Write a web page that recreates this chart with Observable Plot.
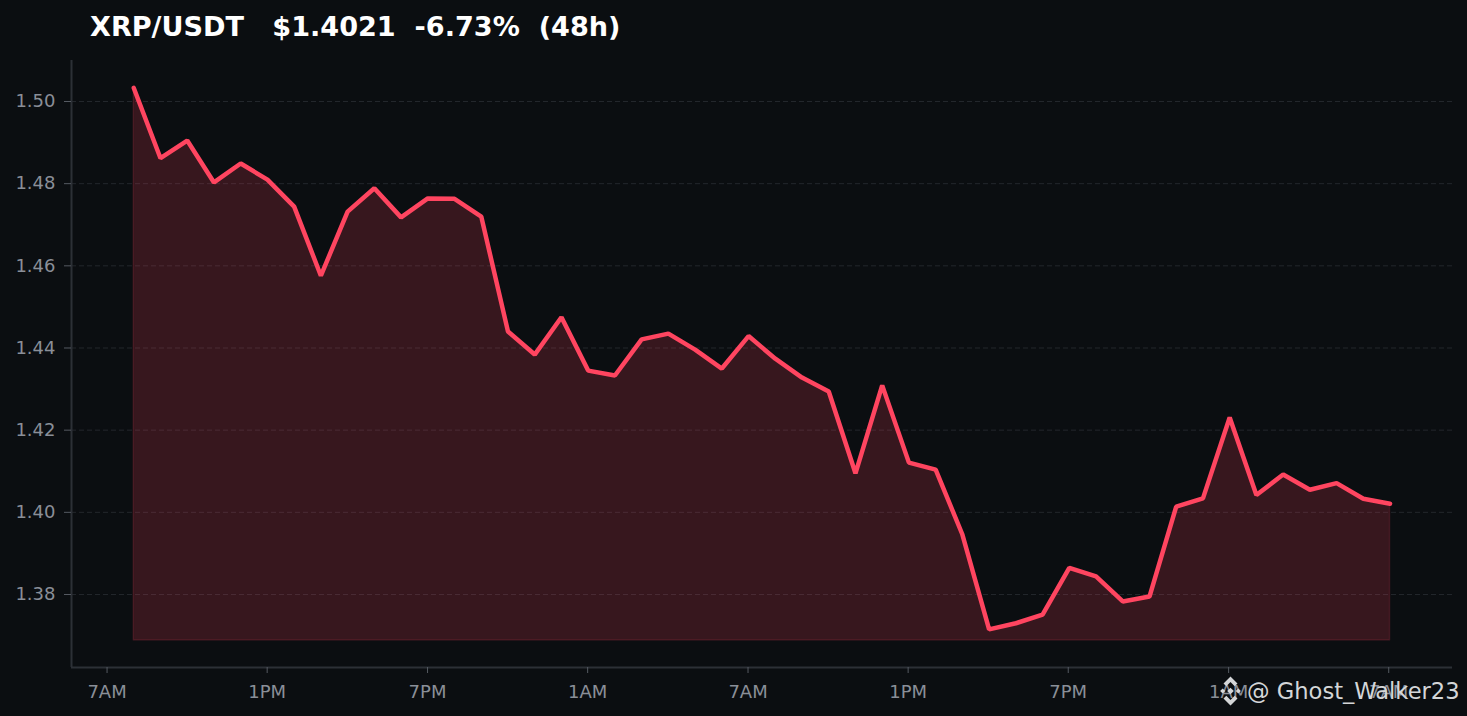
<!DOCTYPE html>
<html>
<head>
<meta charset="utf-8">
<script src="https://cdn.jsdelivr.net/npm/d3@7"></script>
<script src="https://cdn.jsdelivr.net/npm/@observablehq/plot@0.6"></script>
<style>
html,body{margin:0;padding:0;background:#0b0e11;overflow:hidden;width:1467px;height:716px;font-family:"DejaVu Sans",sans-serif}
#title{position:absolute;left:90px;top:10px;height:34px;line-height:34px;color:#fff;font-weight:700;font-size:27.1px;white-space:pre}
#chart{position:absolute;left:0;top:60px}
#mark{position:absolute;left:1219px;top:675px;display:flex;align-items:center;color:#d4d6d8;font-size:22.6px;line-height:32px;white-space:pre}
#mark svg{display:block;margin-right:5px}
</style>
</head>
<body>
<div id="title">XRP/USDT   $1.4021  -6.73%  (48h)</div>
<div id="chart"></div>
<div id="mark"><svg width="23" height="30" viewBox="0 0 23 30"><g fill="#d4d6d8"><path d="M11.500 0.500 18.500 7.500 15.700 10.300 11.500 6.100 7.300 10.300 4.500 7.500Z"/><path d="M11.500 29.500 18.500 22.500 15.700 19.700 11.500 23.900 7.300 19.700 4.500 22.500Z"/><path d="M11.500 11.700 14.800 15 11.500 18.300 8.200 15Z"/><path d="M3.700 12.400 6.300 15 3.700 17.600 1.100 15Z"/><path d="M19.300 12.400 21.900 15 19.300 17.600 16.700 15Z"/></g></svg>@ Ghost_Walker23</div>
<script>
const hours = [1,2,3,4,5,6,7,8,9,10,11,12,13,14,15,16,17,18,19,20,21,22,23,24,25,26,27,28,29,30,31,32,33,34,35,36,37,38,39,40,41,42,43,44,45,46,47,48];
const prices = [1.5033,1.4862,1.4905,1.4803,1.4849,1.4810,1.4744,1.4576,1.4732,1.4789,1.4718,1.4764,1.4763,1.4720,1.4440,1.4384,1.4475,1.4345,1.4333,1.4421,1.4435,1.4396,1.4350,1.4429,1.4374,1.4328,1.4294,1.4095,1.4309,1.4121,1.4104,1.3946,1.3715,1.3730,1.3751,1.3865,1.3844,1.3783,1.3795,1.4014,1.4034,1.4231,1.4042,1.4092,1.4055,1.4071,1.4033,1.4021];
const baseline = 1.3688;
const xTicks = [0,5.99,11.99,17.98,23.98,29.97,35.96,41.96,47.95];
const xLabels = ["7AM","1PM","7PM","1AM","7AM","1PM","7PM","1AM","7AM"];
const yTicks = [1.38,1.40,1.42,1.44,1.46,1.48,1.50];
const yDomain = [1.36223,1.50998];
const xDomain = [-1.33,50.336];

const fontSize = 18;
const chart = Plot.plot({
  width: 1467, height: 656,
  marginLeft: 71, marginRight: 15, marginTop: 0, marginBottom: 49,
  style: {background: "transparent", fontFamily: "'DejaVu Sans',sans-serif", fontSize: fontSize + "px"},
  x: {type: "linear", domain: xDomain, label: null},
  y: {type: "linear", domain: yDomain, label: null},
  marks: [
    Plot.gridY(yTicks, {stroke: "#23272c", strokeOpacity: 1, strokeWidth: 1, strokeDasharray: "5,3"}),
    Plot.areaY(hours, {x: d => d, y1: () => baseline, y2: (d, i) => prices[i], fill: "#ff4560", fillOpacity: 0.18, stroke: "#ff4560", strokeOpacity: 0.15, strokeWidth: 1.5}),
    Plot.line(hours, {x: d => d, y: (d, i) => prices[i], stroke: "#ff4560", strokeWidth: 4.5, strokeLinejoin: "miter"}),
    Plot.ruleX([xDomain[0]], {stroke: "#2c3036", strokeWidth: 2}),
    Plot.ruleY([yDomain[0]], {stroke: "#2c3036", strokeWidth: 2}),
    Plot.axisY({ticks: yTicks, tickSize: 7, tickPadding: 9, tickFormat: d3.format(".2f"), color: "#8a8f98", stroke: "#555a62", fontSize: fontSize, label: null}),
    Plot.axisX({ticks: xTicks, tickSize: 6, tickPadding: 12, tickFormat: d => xLabels[xTicks.indexOf(d)], color: "#8a8f98", stroke: "#555a62", fontSize: fontSize, label: null})
  ]
});
document.getElementById("chart").appendChild(chart);
</script>
</body>
</html>
